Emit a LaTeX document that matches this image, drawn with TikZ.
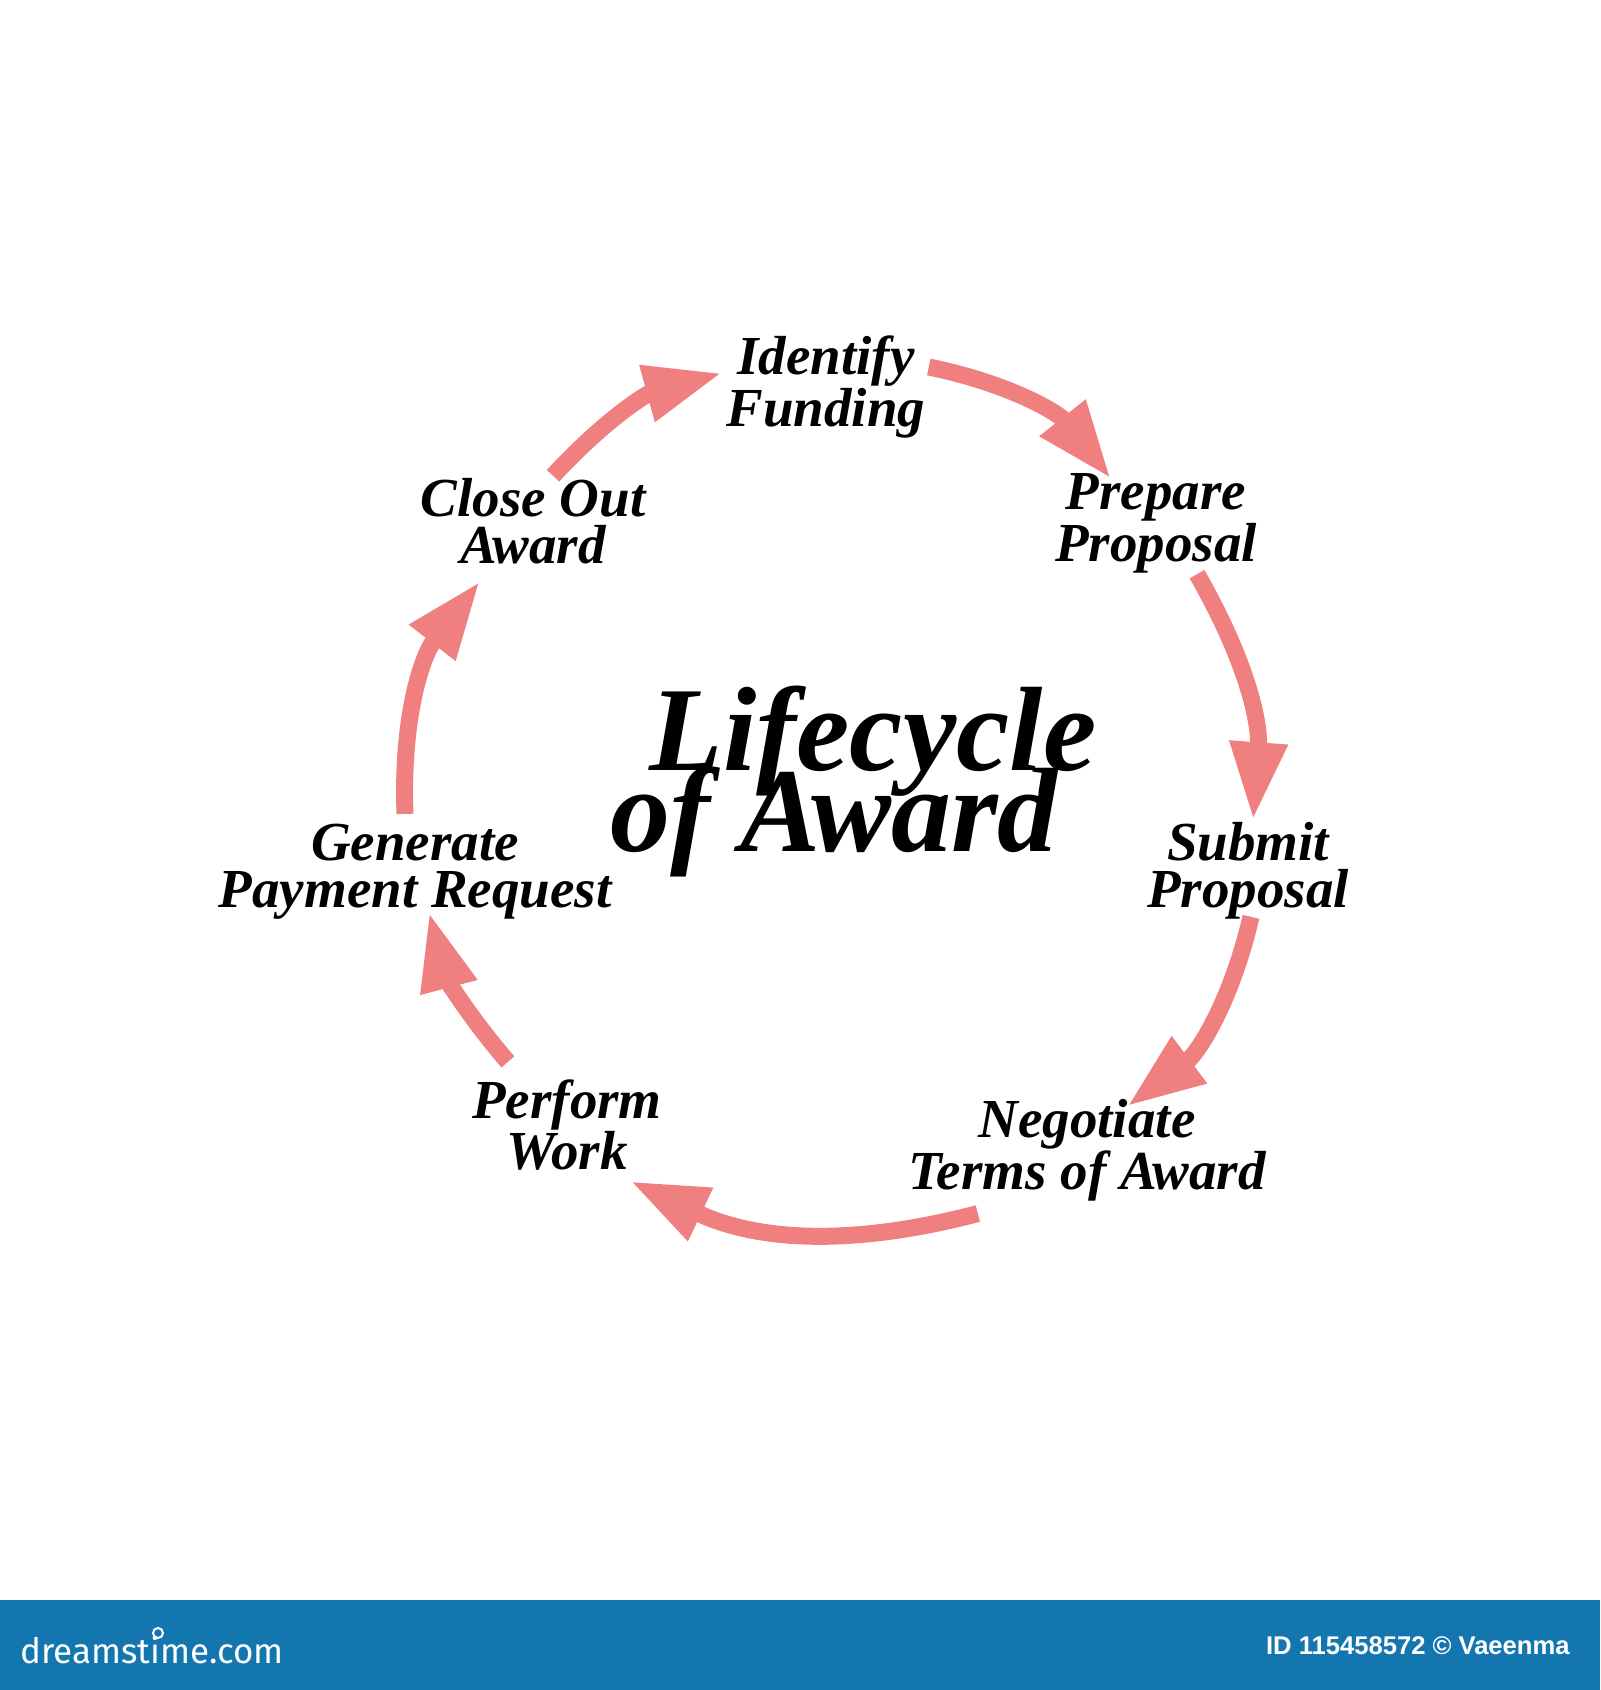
\documentclass[tikz,border=0pt]{standalone}
\usepackage{fontspec}
\setmainfont{Liberation Serif}
\newfontfamily\logofont{Fira Sans}
\newfontfamily\idfont{Liberation Sans}
\usetikzlibrary{arrows.meta}
\definecolor{arrowpink}{RGB}{240,128,128}
\definecolor{bandblue}{RGB}{19,118,174}
\begin{document}
\begin{tikzpicture}[x=0.5pt,y=-0.5pt,
   stage/.style={align=center,inner sep=0pt,font=\fontsize{27.5}{23.5}\selectfont\bfseries\itshape},
   headline/.style={anchor=base,inner sep=0pt,font=\fontsize{60}{60}\selectfont\bfseries\itshape},
   flow/.style={draw=arrowpink,line width=8.5pt,-{Triangle[length=39pt,width=27pt]}}]
\fill[white](0,0)rectangle(1600,1690);
\useasboundingbox(0,0)rectangle(1600,1690);
\node[stage](identify) at (826,387){Identify\\Funding};
\node[stage](prepare) at (1156,523){Prepare\\Proposal};
\node[stage](submit) at (1248,871){Submit\\Proposal};
\node[stage](negotiate) at (1087,1150){Negotiate\\Terms of Award};
\node[stage](perform) at (567,1125){Perform\\Work};
\node[stage](generate) at (415,872){Generate\\Payment Request};
\node[stage](closeout) at (533,521){Close Out\\Award};
\node[headline](title) at (873,770){Lifecycle};
\node[headline](titleb) at (834,851){of Award};
\draw[flow]([shift={(3,-20)}]identify.east) to[bend left=20] ([shift={(-45,6)}]prepare.north);
\draw[flow]([shift={(41,1)}]prepare.south) to[bend left=17] ([shift={(5,-2)}]submit.north);
\draw[flow]([shift={(3,-3)}]submit.south) to[bend left=20] ([shift={(40,8)}]negotiate.north);
\draw[flow]([shift={(70,12)}]negotiate.south west) to[bend left=20] ([shift={(-32,10)}]perform.south east);
\draw[flow]([shift={(36,-17)}]perform.north west) to[bend left=13] ([shift={(14,-8)}]generate.south);
\draw[flow]([shift={(-10,-10)}]generate.north) to[bend left=20] ([shift={(-53,17)}]closeout.south);
\draw[flow]([shift={(20,-2)}]closeout.north) to[bend left=16] ([shift={(-4,-14)}]identify.west);
\fill[bandblue](0,1600)rectangle(1600,1690);
\node[anchor=base west,inner sep=0pt,text=white,font=\logofont\fontsize{17.5}{17.5}\selectfont](logo) at (20,1663){dreamstime.com};
\draw[white,line width=1pt](158,1633)circle[radius=2.5pt];
\node[anchor=base east,inner sep=0pt,text=white,font=\idfont\bfseries\fontsize{12.8}{12.8}\selectfont](imageid) at (1570,1654){ID 115458572 © Vaeenma};
\end{tikzpicture}
\end{document}
